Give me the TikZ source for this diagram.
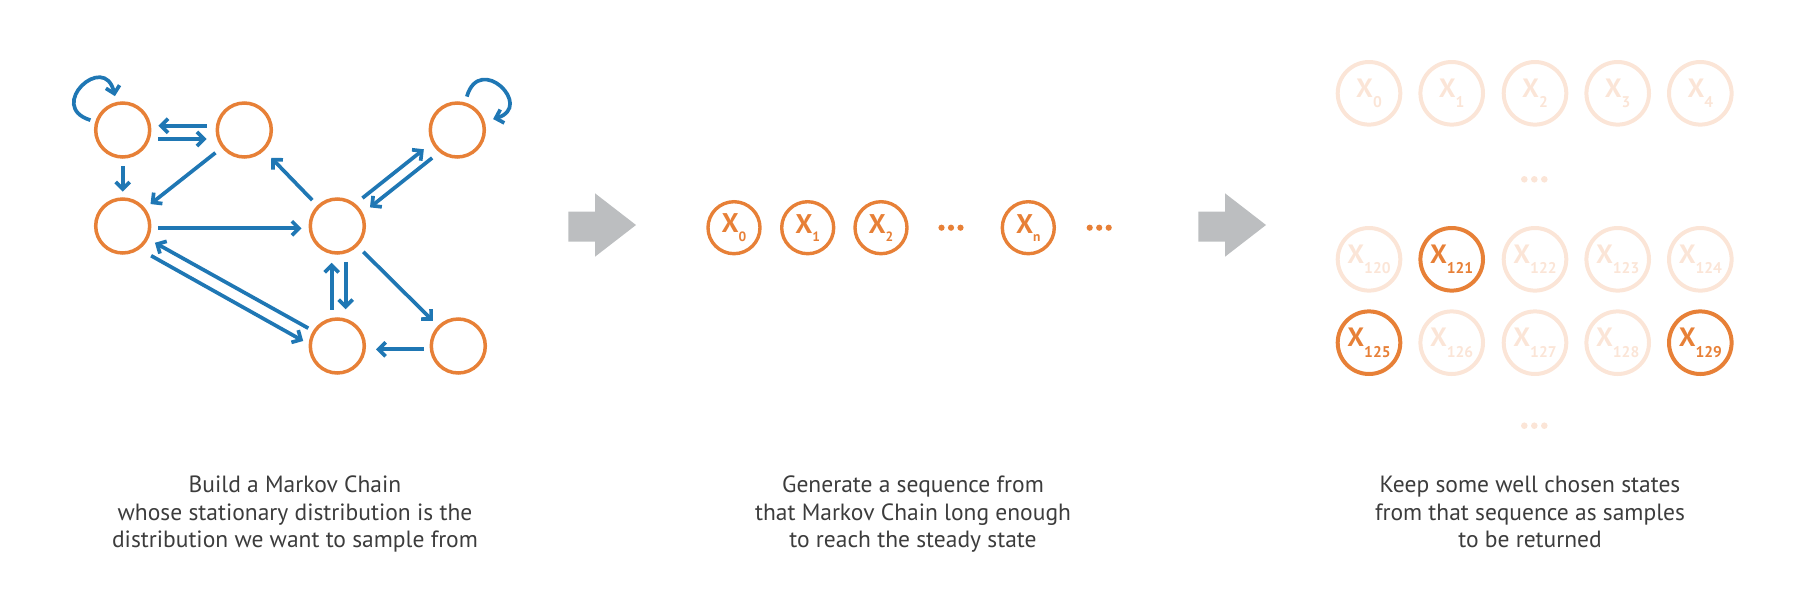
\documentclass[tikz,border=0pt]{standalone}
\usepackage{fontspec}
\setmainfont{PT Sans}
\usetikzlibrary{arrows.meta}
\definecolor{chainblue}{RGB}{31,119,180}
\definecolor{stateorange}{RGB}{231,128,55}
\definecolor{statefade}{RGB}{251,229,215}
\definecolor{stepgray}{RGB}{188,190,192}
\definecolor{captext}{RGB}{60,60,60}
\newcommand\seqlab[1]{X\raisebox{-8.3pt}{\fontsize{13.5}{13.5}\selectfont #1}}
\newcommand\gridlab[1]{X\raisebox{-10.5pt}{\fontsize{15.5}{15.5}\selectfont #1}}
\begin{document}
\begin{tikzpicture}[x=1pt,y=1pt,
    mstate/.style={draw=stateorange, circle, line width=3.5pt, minimum size=54pt, inner sep=0pt},
    sstate/.style={draw=stateorange, circle, line width=3.4pt, minimum size=52pt, inner sep=0pt, text=stateorange, font=\bfseries\fontsize{27}{27}\selectfont},
    gkeep/.style={draw=stateorange, circle, line width=4pt, minimum size=62.6pt, inner sep=0pt, text=stateorange, font=\bfseries\fontsize{26.5}{26.5}\selectfont},
    gskip/.style={gkeep, draw=statefade, text=statefade},
    arr/.style={draw=chainblue, line width=3.7pt, -{Straight Barb[length=7pt,width=14pt]}},
    caption/.style={align=center, text=captext, font=\fontsize{23.5}{27.3}\selectfont}]
        \useasboundingbox (0,0) rectangle (1815,-606);

        % markov chain
        \node[mstate] (m1) at (122.7,-130) {};
        \node[mstate] (m2) at (244.3,-130) {};
        \node[mstate] (m3) at (457.3,-130) {};
        \node[mstate] (m4) at (122.7,-226) {};
        \node[mstate] (m5) at (337.3,-226) {};
        \node[mstate] (m6) at (337.3,-346) {};
        \node[mstate] (m7) at (458.3,-346) {};
        \path[arr,shorten <=5pt,shorten >=6pt] (m1) to[out=163,in=103,distance=52pt] (m1);
        \path[arr,shorten <=6pt,shorten >=8.7pt] (m3) to[out=74,in=17,distance=52pt] (m3);
        \path[arr,shorten <=7pt,shorten >=9pt] ([yshift=-9pt]m1.east) -- ([yshift=-9pt]m2.west);
        \path[arr,shorten <=9pt,shorten >=7pt] ([yshift=4.3pt]m2.west) -- ([yshift=4.3pt]m1.east);
        \path[arr,shorten <=7.3pt,shorten >=5.6pt] (m1) -- (m4);
        \path[arr,shorten <=8pt,shorten >=6.7pt] (m2) -- (m4);
        \path[arr,shorten <=7pt,shorten >=7pt] ([yshift=-2.3pt]m4.east) -- ([yshift=-2.3pt]m5.west);
        \path[arr,shorten <=7.2pt,shorten >=10pt] (m5) -- (m2);
        \path[arr,shorten <=9pt,shorten >=10pt] (m5.51) -- (m3.207);
        \path[arr,shorten <=9pt,shorten >=9pt] (m3.231) -- (m5.27);
        \path[arr,shorten <=5.3pt,shorten >=7.6pt] (m6.148) -- (m4.-27);
        \path[arr,shorten <=13.2pt,shorten >=6.2pt] (m4.-54) -- (m6.176);
        \path[arr,shorten <=7.3pt,shorten >=8pt] ([xshift=-5.6pt]m6.north) -- ([xshift=-5.6pt]m5.south);
        \path[arr,shorten <=7pt,shorten >=8pt] ([xshift=8.4pt]m5.south) -- ([xshift=8.4pt]m6.north);
        \path[arr,shorten <=7.9pt,shorten >=6.9pt] (m5) -- (m7);
        \path[arr,shorten <=5.6pt,shorten >=10pt] ([yshift=-3.3pt]m7.west) -- ([yshift=-3.3pt]m6.east);

        % step arrows
        \fill[stepgray] (568.3,-211.7) -- (595,-211.7) -- (595,-193.3) -- (636,-225) -- (595,-256.7) -- (595,-241.7) -- (568.3,-241.7) -- cycle;
        \fill[stepgray] (1198.3,-211.7) -- (1225,-211.7) -- (1225,-193.3) -- (1266,-225) -- (1225,-256.7) -- (1225,-241.7) -- (1198.3,-241.7) -- cycle;

        % sequence
        \node[sstate] (s0) at (734,-227.7) {\seqlab{0}};
        \node[sstate] (s1) at (807.7,-227.7) {\seqlab{1}};
        \node[sstate] (s2) at (881,-227.7) {\seqlab{2}};
        \node[sstate] (sn) at (1028.3,-227.7) {\seqlab{n}};
        \fill[stateorange] (941.5,-227.7) circle (3.1) (951,-227.7) circle (3.1) (960.5,-227.7) circle (3.1);
        \fill[stateorange] (1089.7,-227.7) circle (3.1) (1099.2,-227.7) circle (3.1) (1108.7,-227.7) circle (3.1);

        % kept samples
        \node[gskip] (g0) at (1369,-93.3) {\gridlab{0}};
        \node[gskip] (g1) at (1451.7,-93.3) {\gridlab{1}};
        \node[gskip] (g2) at (1535,-93.3) {\gridlab{2}};
        \node[gskip] (g3) at (1617.7,-93.3) {\gridlab{3}};
        \node[gskip] (g4) at (1700.3,-93.3) {\gridlab{4}};
        \fill[statefade] (1524.3,-179.3) circle (3.3) (1534.3,-179.3) circle (3.3) (1544.3,-179.3) circle (3.3);
        \node[gskip] (g120) at (1369,-259.3) {\gridlab{120}};
        \node[gkeep] (g121) at (1451.7,-259.3) {\gridlab{121}};
        \node[gskip] (g122) at (1535,-259.3) {\gridlab{122}};
        \node[gskip] (g123) at (1617.7,-259.3) {\gridlab{123}};
        \node[gskip] (g124) at (1700.3,-259.3) {\gridlab{124}};
        \node[gkeep] (g125) at (1369,-342.7) {\gridlab{125}};
        \node[gskip] (g126) at (1451.7,-342.7) {\gridlab{126}};
        \node[gskip] (g127) at (1535,-342.7) {\gridlab{127}};
        \node[gskip] (g128) at (1617.7,-342.7) {\gridlab{128}};
        \node[gkeep] (g129) at (1700.3,-342.7) {\gridlab{129}};
        \fill[statefade] (1524.3,-425.7) circle (3.3) (1534.3,-425.7) circle (3.3) (1544.3,-425.7) circle (3.3);

        % captions
        \node[caption, anchor=base] (capbuild) at (295,-547.3) {Build a Markov Chain\\whose stationary distribution is the\\distribution we want to sample from};
        \node[caption, anchor=base] (capgen) at (913,-547.3) {Generate a sequence from\\that Markov Chain long enough\\to reach the steady state};
        \node[caption, anchor=base] (capkeep) at (1530,-547.3) {Keep some well chosen states\\from that sequence as samples\\to be returned};
    \end{tikzpicture}
\end{document}
